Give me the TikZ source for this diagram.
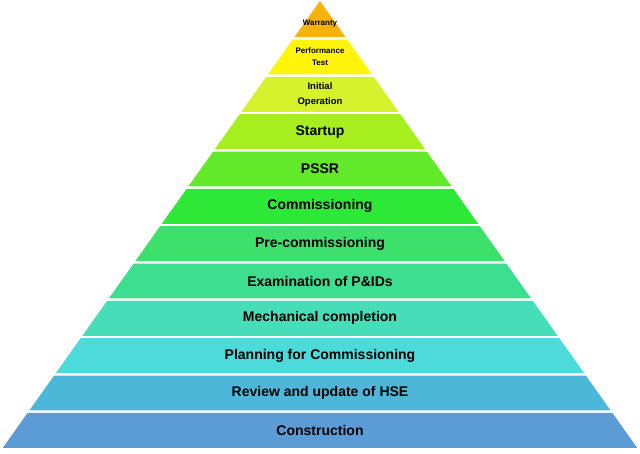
\documentclass[tikz,border=0pt]{standalone}
\usepackage{fontspec}
\setmainfont{Liberation Sans}
\begin{document}
\begin{tikzpicture}[x=1pt,y=-1pt,
  lbl/.style={align=center, inner sep=0pt}]
\useasboundingbox (0,0) rectangle (640,454);
\definecolor{c1}{HTML}{F7B20C}
\definecolor{c2}{HTML}{FFF40A}
\definecolor{c3}{HTML}{D6F22C}
\definecolor{c4}{HTML}{A6EE1E}
\definecolor{c5}{HTML}{62EA2A}
\definecolor{c6}{HTML}{2EE838}
\definecolor{c7}{HTML}{3EE06C}
\definecolor{c8}{HTML}{3EDE90}
\definecolor{c9}{HTML}{46DDB8}
\definecolor{c10}{HTML}{4CDADA}
\definecolor{c11}{HTML}{4DB7DA}
\definecolor{c12}{HTML}{5B9BD6}
\def\ytop{1}\def\ybot{449}
\foreach \i/\t/\fs/\bs in {1/Warranty/8/10,2/{Performance\\Test}/8/12,3/{Initial\\Operation}/9.5/15,4/Startup/14/17,5/PSSR/14/17,6/Commissioning/14/17,7/Pre-commissioning/14/17,8/Examination of P\&IDs/14/17,9/Mechanical completion/14/17,10/Planning for Commissioning/14/17,11/Review and update of HSE/14/17,12/Construction/14/17}{
  \pgfmathsetmacro{\ya}{\ybot-(13-\i)*37.33+(\i==1?0:1.2)}
  \pgfmathsetmacro{\yb}{\ybot-(12-\i)*37.33-1.2}
  \pgfmathsetmacro{\wa}{(\ya-\ytop)*0.70982}
  \pgfmathsetmacro{\wb}{(\yb-\ytop)*0.70982}
  \fill[c\i] (320-\wa,\ya) -- (320+\wa,\ya) -- (320+\wb,\yb) -- (320-\wb,\yb) -- cycle;
  \pgfmathsetmacro{\ym}{(\ya+\yb)/2+(\i==1?4:0)}
  \node[lbl, font=\fontsize{\fs pt}{\bs pt}\selectfont\bfseries] (L\i) at (320,\ym) {\t};
}
\end{tikzpicture}
\end{document}
